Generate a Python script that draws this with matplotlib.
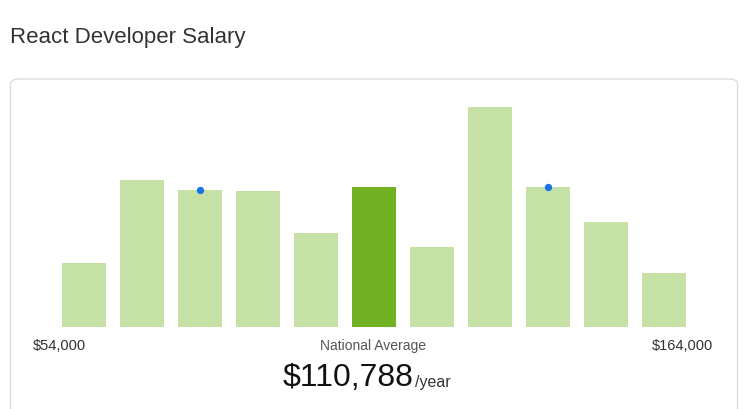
import matplotlib
matplotlib.use("Agg")
import matplotlib.pyplot as plt
from matplotlib.patches import FancyBboxPatch

plt.rcParams['font.family'] = ['Liberation Sans', 'DejaVu Sans']

heights = [64, 147, 137, 136, 94, 140, 80, 220, 140, 105, 54]
highlight = 5
dot_bars = [2, 8]
min_label = "$54,000"
max_label = "$164,000"
avg_label = "$110,788"

W, H = 750, 410
fig = plt.figure(figsize=(7.5, 4.1), dpi=100)
fig.patch.set_facecolor("white")

card = FancyBboxPatch((10.5 / W, -20 / H), 727 / W, (410 - 80 + 20) / H,
                      boxstyle="round,pad=0,rounding_size=0.012",
                      transform=fig.transFigure, facecolor="white",
                      edgecolor="#dddddd", linewidth=1, zorder=-5)
fig.patches.append(card)

fig.text(10 / W, 1 - 38 / H, "React Developer Salary", fontsize=16,
         color="#333333", va="center", ha="left")

ax = fig.add_axes([55 / W, (410 - 328) / H, 638 / W, 228 / H])
ax.set_zorder(5)
ax.patch.set_alpha(0)
ax.set_xlim(-0.5, 10.5)
ax.set_ylim(0, 228)
ax.axis("off")
colors = ["#72b123" if i == highlight else "#c5e1a5" for i in range(len(heights))]
ax.bar(range(len(heights)), heights, width=0.76, color=colors)
ax.scatter(dot_bars, [heights[i] for i in dot_bars], s=18, color="#1a73e8", zorder=3)

fig.text(33 / W, 1 - 346 / H, min_label, fontsize=10.5, color="#333333", va="center", ha="left")
fig.text(713 / W, 1 - 346 / H, max_label, fontsize=10.5, color="#333333", va="center", ha="right")
fig.text(373 / W, 1 - 346 / H, "National Average", fontsize=10, color="#555555", va="center", ha="center")
t = fig.text(283 / W, 1 - 378 / H, avg_label, fontsize=23, color="#111111", va="center", ha="left")
fig.canvas.draw()
bb = t.get_window_extent()
fig.text(bb.x1 / W + 0.001, 1 - 383 / H, "/year", fontsize=11.5, color="#333333", va="center", ha="left")

fig.savefig("out.png", dpi=100)
